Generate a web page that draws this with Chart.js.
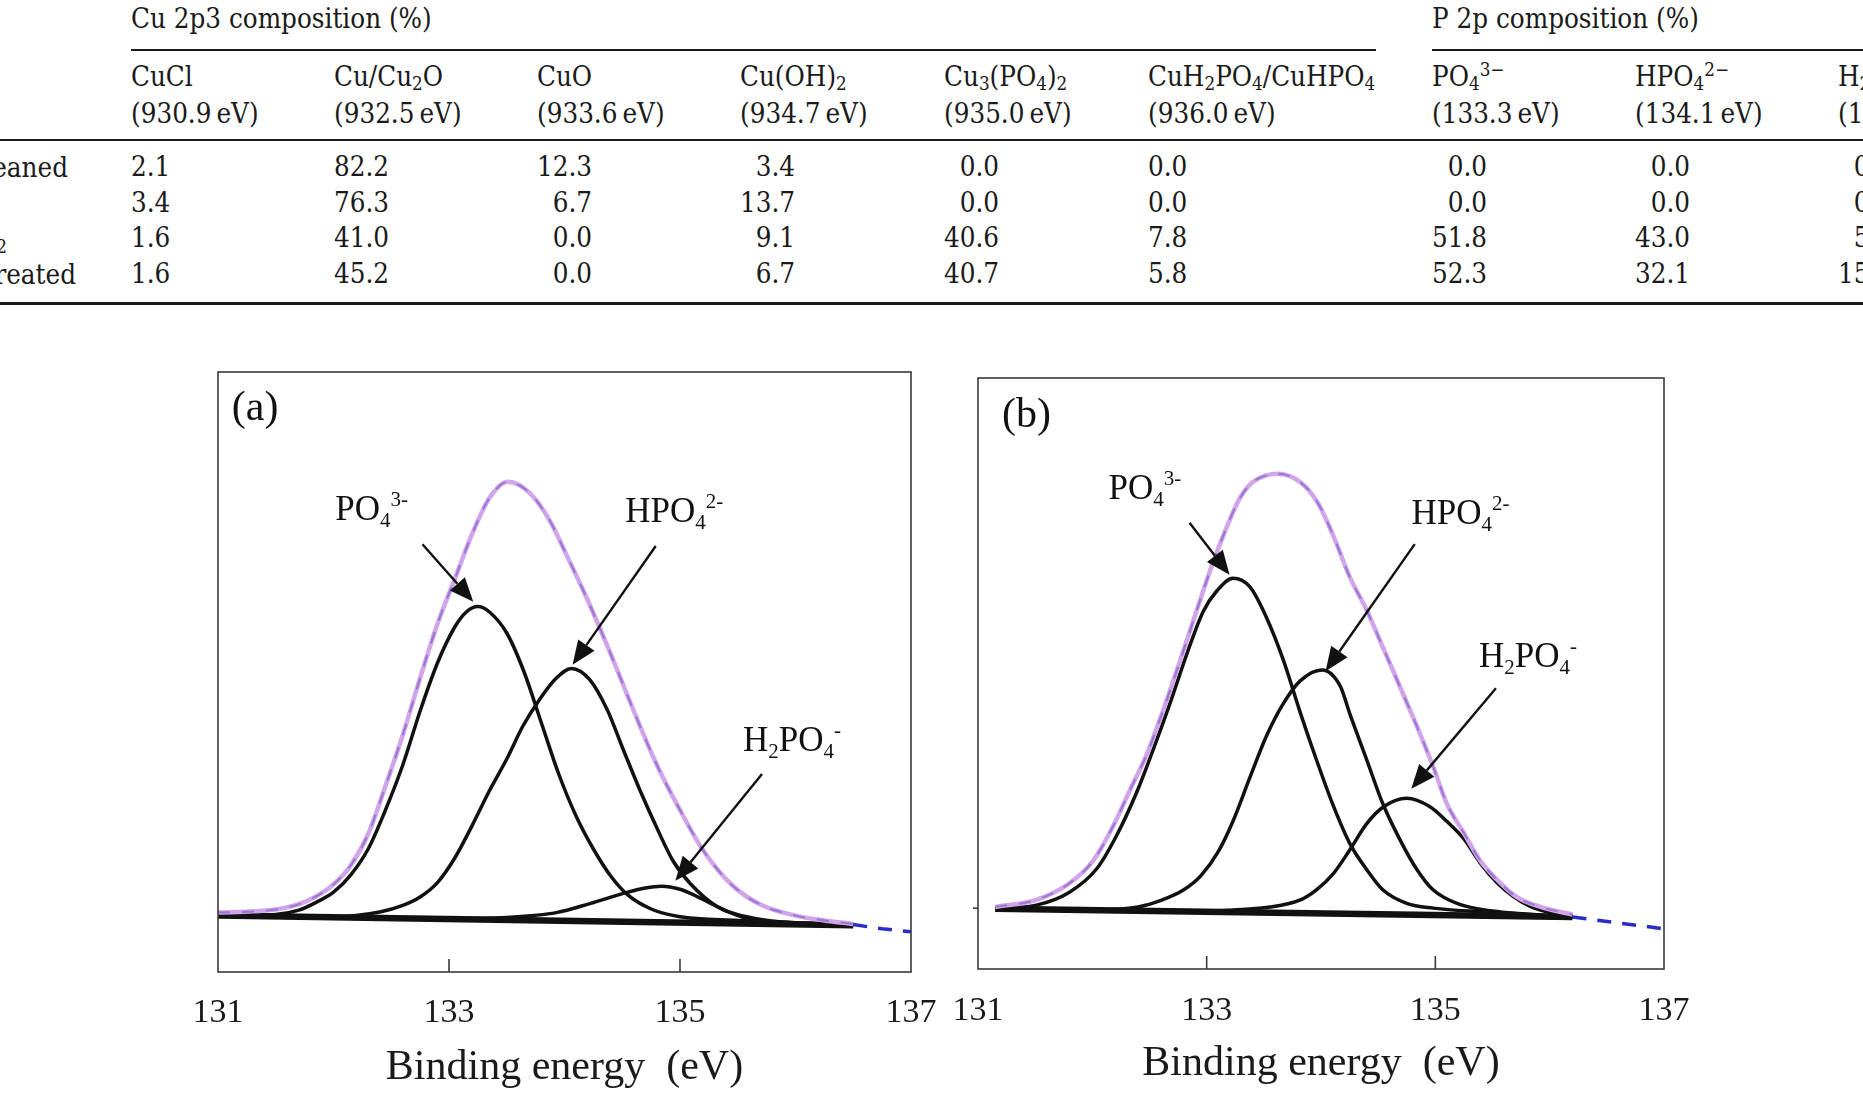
<!DOCTYPE html>
<html><head><meta charset="utf-8">
<script src="https://cdn.jsdelivr.net/npm/chart.js@4.4.1/dist/chart.umd.min.js"></script>
<style>
html,body{margin:0;padding:0;background:#fff;width:1863px;height:1101px;overflow:hidden;}
#page{position:relative;width:1863px;height:1101px;overflow:hidden;background:#fff;}
.t{position:absolute;white-space:nowrap;font-family:'DejaVu Serif Condensed','DejaVu Serif',serif;font-size:27.5px;color:#1a1a1a;line-height:30px;}
.t sub{font-size:68%;vertical-align:-0.22em;line-height:0;}
.t sup{font-size:68%;vertical-align:0.55em;line-height:0;}
.col{position:absolute;text-align:right;font-family:'DejaVu Serif Condensed','DejaVu Serif',serif;font-size:27.5px;color:#1a1a1a;}
.col div{height:35.67px;line-height:35.67px;white-space:nowrap;}
.rule{position:absolute;background:#1a1a1a;}
canvas{position:absolute;}
</style></head><body><div id="page">
<canvas id="ca" width="811" height="761" style="left:150px;top:340px"></canvas>
<canvas id="cb" width="804" height="761" style="left:910px;top:340px"></canvas>
</div>
<script>
// ---------------- table data ----------------
const cuGroupTitle = 'Cu 2p3 composition (%)';
const pGroupTitle = 'P 2p composition (%)';
const cuHeads = ['CuCl','Cu/Cu<sub>2</sub>O','CuO','Cu(OH)<sub>2</sub>','Cu<sub>3</sub>(PO<sub>4</sub>)<sub>2</sub>','CuH<sub>2</sub>PO<sub>4</sub>/CuHPO<sub>4</sub>'];
const cuEnergies = ['930.9','932.5','933.6','934.7','935.0','936.0'];
const pHeads = ['PO<sub>4</sub><sup>3\u2212</sup>','HPO<sub>4</sub><sup>2\u2212</sup>','H<sub>2</sub>PO<sub>4</sub><sup>\u2212</sup>'];
const pEnergies = ['133.3','134.1','135.0'];
const rowLabels = ['eaned','','<sub>2</sub>','reated'];
const row1 = [2.1, 82.2, 12.3, 3.4, 0.0, 0.0, 0.0, 0.0, 0.0];
const row2 = [3.4, 76.3, 6.7, 13.7, 0.0, 0.0, 0.0, 0.0, 0.0];
const row3 = [1.6, 41.0, 0.0, 9.1, 40.6, 7.8, 51.8, 43.0, 5.2];
const row4 = [1.6, 45.2, 0.0, 6.7, 40.7, 5.8, 52.3, 32.1, 15.6];

// ---------------- chart (a) data: binding energy (eV) / intensity (a.u.) ----------------
const baseA_E = [131.0, 136.5];
const baseA_I = [9.4, 7.8];
const tailA_E = [136.5, 136.75, 137.0];
const tailA_I = [7.9, 7.2, 6.7];
const envA_E = [131.0,131.5,131.7,131.85,132.0,132.15,132.3,132.45,132.6,132.75,132.9,133.05,133.2,133.35,133.51,133.7,133.87,134.03,134.2,134.4,134.6,134.8,135.0,135.2,135.45,135.7,136.0,136.25,136.5];
const envA_I = [9.9,10.4,11.3,12.6,14.6,17.8,23.0,31.0,39.5,49.0,58.0,65.5,73.0,79.0,81.7,79.8,75.3,69.0,62.0,53.0,43.5,34.5,27.0,20.3,14.5,11.2,9.4,8.6,8.0];
const po4A_E = [131.0,131.5,131.7,131.85,132.0,132.15,132.3,132.45,132.6,132.75,132.9,133.05,133.15,133.25,133.35,133.5,133.65,133.8,133.95,134.1,134.25,134.4,134.55,134.75,135.0,135.5,136.5];
const po4A_I = [9.4,9.6,10.3,11.6,13.3,16.2,20.5,27.0,34.5,43.5,51.5,57.5,60.0,60.9,60.0,56.5,50.0,41.5,33.0,26.0,20.5,16.0,12.8,10.5,9.2,8.6,7.8];
const hpo4A_E = [131.0,132.0,132.4,132.6,132.75,132.9,133.05,133.2,133.35,133.5,133.64,133.79,133.93,134.06,134.22,134.37,134.51,134.66,134.8,134.94,135.09,135.33,135.66,136.0,136.5];
const hpo4A_I = [9.4,9.2,10.0,11.1,12.5,14.9,19.0,24.4,30.2,35.5,41.0,45.6,49.0,50.6,48.7,43.7,37.0,30.0,24.0,18.5,14.7,10.8,8.9,8.2,7.8];
const h2po4A_E = [131.0,133.0,133.5,133.93,134.22,134.51,134.7,134.84,135.0,135.09,135.25,135.4,135.58,136.0,136.5];
const h2po4A_I = [9.4,8.9,9.1,9.9,11.4,13.1,14.0,14.3,13.8,13.1,11.6,10.2,8.9,8.2,7.8];

// ---------------- chart (b) data ----------------
const baseB_E = [131.15, 136.2];
const baseB_I = [10.2, 8.8];
const tailB_E = [136.2, 136.6, 137.0];
const tailB_I = [8.8, 7.8, 6.8];
const envB_E = [131.15,131.51,131.8,132.01,132.18,132.33,132.48,132.62,132.77,132.91,133.05,133.17,133.28,133.38,133.5,133.62,133.75,133.88,133.98,134.11,134.25,134.4,134.54,134.69,134.84,134.98,135.1,135.25,135.39,135.54,135.71,135.92,136.2];
const envB_I = [10.5,11.7,14.5,18.4,24.1,30.3,36.5,43.8,52.3,60.5,68.5,74.5,79.3,82.0,83.4,83.8,83.2,81.3,78.6,73.2,66.4,60.7,54.5,47.8,41.0,34.3,28.0,23.0,18.4,15.1,12.2,10.5,9.2];
const po4B_E = [131.15,131.51,131.8,132.04,132.21,132.39,132.53,132.68,132.83,132.97,133.09,133.23,133.38,133.52,133.67,133.82,133.96,134.11,134.25,134.4,134.54,134.75,134.98,135.5,136.2];
const po4B_I = [10.2,10.8,13.0,17.0,22.5,30.0,37.0,45.0,53.5,60.5,64.0,66.1,64.6,59.6,52.3,43.3,35.4,27.5,21.3,16.8,13.4,11.1,10.3,9.6,8.8];
const hpo4B_E = [131.15,132.0,132.4,132.6,132.8,132.95,133.1,133.23,133.38,133.52,133.67,133.82,134.01,134.17,134.25,134.4,134.54,134.69,134.84,134.98,135.2,135.5,136.2];
const hpo4B_I = [10.2,10.0,10.5,11.6,13.4,15.8,19.8,25.0,32.5,39.3,44.9,48.8,50.6,47.8,43.3,35.4,28.0,21.9,16.8,13.4,11.0,9.8,8.8];
const h2po4B_E = [131.15,133.0,133.23,133.52,133.82,133.96,134.11,134.25,134.4,134.55,134.75,134.95,135.1,135.25,135.39,135.54,135.68,135.83,136.06,136.2];
const h2po4B_I = [10.2,9.8,10.0,10.4,11.7,13.4,16.2,20.1,24.6,27.5,28.9,27.5,25.0,22.0,18.0,14.6,12.3,10.6,9.3,8.8];

const tickLabelsX = ['131','133','135','137'];
const axisTitle = 'Binding energy  (eV)';

// ---------------- table layout ----------------
const page = document.getElementById('page');
const colX = [131,334,537,740,944,1148,1432,1635,1838];
function addText(html, x, yc) {
  const d = document.createElement('div');
  d.className = 't'; d.innerHTML = html;
  d.style.left = x + 'px'; d.style.top = (yc - 15) + 'px';
  page.appendChild(d); return d;
}
function addRule(x1, x2, y, h) {
  const r = document.createElement('div'); r.className = 'rule';
  r.style.left = x1 + 'px'; r.style.width = (x2 - x1) + 'px';
  r.style.top = (y - h / 2) + 'px'; r.style.height = h + 'px';
  page.appendChild(r);
}
addText(cuGroupTitle, 131, 18);
addText(pGroupTitle, 1432, 18);
addRule(131, 1376, 50, 1.5);
addRule(1432, 1863, 50, 1.5);
addRule(0, 1863, 140, 1.5);
addRule(0, 1863, 303, 3);
const heads = cuHeads.concat(pHeads);
const energies = cuEnergies.concat(pEnergies);
heads.forEach((h, i) => {
  addText(h, colX[i], 76);
  addText('(' + energies[i] + '\u2009eV)', colX[i], 113);
});
const rowCentres = [167, 203, 239, 274];
const rowRight = [68, 0, 7, 76];
rowLabels.forEach((l, i) => {
  if (!l) return;
  const d = addText(l, 0, rowCentres[i]);
  d.style.left = 'auto';
  d.style.right = (1863 - rowRight[i]) + 'px';
});
const rows = [row1, row2, row3, row4];
colX.forEach((x, c) => {
  const col = document.createElement('div'); col.className = 'col';
  col.style.left = x + 'px'; col.style.top = (rowCentres[0] - 35.67 / 2) + 'px';
  rows.forEach(r => {
    const d = document.createElement('div'); d.textContent = r[c].toFixed(1); col.appendChild(d);
  });
  page.appendChild(col);
});

// ---------------- charts ----------------
function pts(E, I) { return E.map((e, i) => ({x: e, y: I[i]})); }
function drawChem(ctx, parts, cx, cy, size) {
  const big = size + 'px "Liberation Serif"', small = Math.round(size * 0.6) + 'px "Liberation Serif"';
  let w = 0;
  parts.forEach(p => { ctx.font = p[1] === 0 ? big : small; w += ctx.measureText(p[0]).width; });
  let x = cx - w / 2;
  ctx.textAlign = 'left'; ctx.textBaseline = 'alphabetic';
  const base = cy + size * 0.33;
  parts.forEach(p => {
    ctx.font = p[1] === 0 ? big : small;
    const dy = p[1] === 0 ? 0 : (p[1] < 0 ? size * 0.2 : -size * 0.4);
    ctx.fillText(p[0], x, base + dy);
    x += ctx.measureText(p[0]).width;
  });
}
function arrow(ctx, x1, y1, x2, y2) {
  const ang = Math.atan2(y2 - y1, x2 - x1), L = 24, W = 10;
  const bx = x2 - L * Math.cos(ang), by = y2 - L * Math.sin(ang);
  ctx.lineWidth = 2.4;
  ctx.beginPath(); ctx.moveTo(x1, y1); ctx.lineTo(bx, by); ctx.stroke();
  ctx.beginPath(); ctx.moveTo(x2, y2);
  ctx.lineTo(bx - W * Math.sin(ang), by + W * Math.cos(ang));
  ctx.lineTo(bx + W * Math.sin(ang), by - W * Math.cos(ang));
  ctx.closePath(); ctx.fill();
}
const boxPlugin = {
  id: 'boxann',
  afterDatasetsDraw(chart) {
    const {ctx, chartArea: a, scales: {x, y}} = chart;
    const an = chart.options.plugins.boxann;
    ctx.save();
    ctx.strokeStyle = '#3a3a3a'; ctx.lineWidth = 1.6;
    ctx.strokeRect(a.left, a.top, a.right - a.left, a.bottom - a.top);
    x.ticks.forEach(t => {
      if (t.value > x.min && t.value < x.max) {
        const px = x.getPixelForValue(t.value);
        ctx.beginPath(); ctx.moveTo(px, a.bottom); ctx.lineTo(px, a.bottom - 13); ctx.stroke();
      }
    });
    if (an.leftMark !== undefined) {
      const py = y.getPixelForValue(an.leftMark);
      ctx.beginPath(); ctx.moveTo(a.left - 5, py); ctx.lineTo(a.left, py); ctx.stroke();
    }
    ctx.fillStyle = '#111'; ctx.strokeStyle = '#111';
    ctx.font = '42px "Liberation Serif"'; ctx.textAlign = 'left'; ctx.textBaseline = 'middle';
    ctx.fillText(an.panel.text, x.getPixelForValue(an.panel.x), y.getPixelForValue(an.panel.y));
    an.labels.forEach(l => drawChem(ctx, l.parts, x.getPixelForValue(l.x), y.getPixelForValue(l.y), 35));
    an.arrows.forEach(r => arrow(ctx, x.getPixelForValue(r[0]), y.getPixelForValue(r[1]), x.getPixelForValue(r[2]), y.getPixelForValue(r[3])));
    ctx.restore();
  }
};
const lblPO4 = [['PO',0],['4',-1],['3-',1]];
const lblHPO4 = [['HPO',0],['4',-1],['2-',1]];
const lblH2PO4 = [['H',0],['2',-1],['PO',0],['4',-1],['-',1]];

function makeChart(id, d, pad, scaleH, tickPad, titlePadB, ann) {
  const comp = {borderColor: '#111', borderWidth: 3.5, pointRadius: 0, showLine: true, cubicInterpolationMode: 'monotone', fill: false};
  return new Chart(document.getElementById(id), {
    type: 'scatter',
    data: {datasets: [
      {data: pts(d.tailE, d.tailI), borderColor: '#2b2bc8', borderWidth: 3.5, borderDash: [14, 11], pointRadius: 0, showLine: true, order: 0},
      {data: pts(d.envE, d.envI), borderColor: 'rgba(60,45,175,0.38)', borderWidth: 2, borderDash: [12, 12], pointRadius: 0, showLine: true, cubicInterpolationMode: 'monotone', order: 1},
      {data: pts(d.envE, d.envI), borderColor: '#d2a4e9', borderWidth: 4.5, pointRadius: 0, showLine: true, cubicInterpolationMode: 'monotone', order: 2},
      Object.assign({data: pts(d.po4E, d.po4I), order: 3}, comp),
      Object.assign({data: pts(d.hpo4E, d.hpo4I), order: 4}, comp),
      Object.assign({data: pts(d.h2po4E, d.h2po4I), order: 5}, comp),
      {data: pts(d.baseE, d.baseI), borderColor: '#111', borderWidth: 6.5, pointRadius: 0, showLine: true, order: 6}
    ]},
    options: {
      responsive: false, animation: false, events: [],
      layout: {padding: pad},
      plugins: {legend: {display: false}, tooltip: {enabled: false}, boxann: ann},
      scales: {
        x: {type: 'linear', min: 131, max: 137, position: 'bottom',
            ticks: {stepSize: 2, color: '#1a1a1a', font: {family: 'Liberation Serif', size: 34}, padding: tickPad, maxRotation: 0, autoSkip: false,
                    callback: (v) => tickLabelsX[Math.round((v - 131) / 2)]},
            grid: {display: false}, border: {display: false},
            title: {display: true, text: axisTitle, color: '#1a1a1a', font: {family: 'Liberation Serif', size: 42}, padding: {top: 0, bottom: titlePadB}},
            afterFit: (s) => { s.height = scaleH; }},
        y: {type: 'linear', min: 0, max: 100, display: false}
      }
    },
    plugins: [boxPlugin]
  });
}
makeChart('ca',
  {tailE: tailA_E, tailI: tailA_I, envE: envA_E, envI: envA_I, po4E: po4A_E, po4I: po4A_I, hpo4E: hpo4A_E, hpo4I: hpo4A_I, h2po4E: h2po4A_E, h2po4I: h2po4A_I, baseE: baseA_E, baseI: baseA_I},
  {left: 68, right: 50, top: 32, bottom: 0}, 129, 13, 8,
  {panel: {text: '(a)', x: 131.12, y: 93.9},
   labels: [{parts: lblPO4, x: 132.33, y: 77.3}, {parts: lblHPO4, x: 134.95, y: 76.9}, {parts: lblH2PO4, x: 135.97, y: 38.7}],
   arrows: [[132.77, 71.3, 133.21, 61.7], [134.79, 71.0, 134.07, 51.2], [135.71, 33, 134.96, 15.2]]});
makeChart('cb',
  {tailE: tailB_E, tailI: tailB_I, envE: envB_E, envI: envB_I, po4E: po4B_E, po4I: po4B_I, hpo4E: hpo4B_E, hpo4I: hpo4B_I, h2po4E: h2po4B_E, h2po4I: h2po4B_I, baseE: baseB_E, baseI: baseB_I},
  {left: 68, right: 50, top: 38, bottom: 0}, 132, 14, 12,
  {panel: {text: '(b)', x: 131.21, y: 93.6}, leftMark: 10.3,
   labels: [{parts: lblPO4, x: 132.46, y: 81.4}, {parts: lblHPO4, x: 135.22, y: 77.3}, {parts: lblH2PO4, x: 135.81, y: 53.1}],
   arrows: [[132.85, 75.5, 133.20, 66.7], [134.82, 71.9, 134.04, 50.4], [135.53, 47.5, 134.79, 30.5]]});
</script>
</body></html>
